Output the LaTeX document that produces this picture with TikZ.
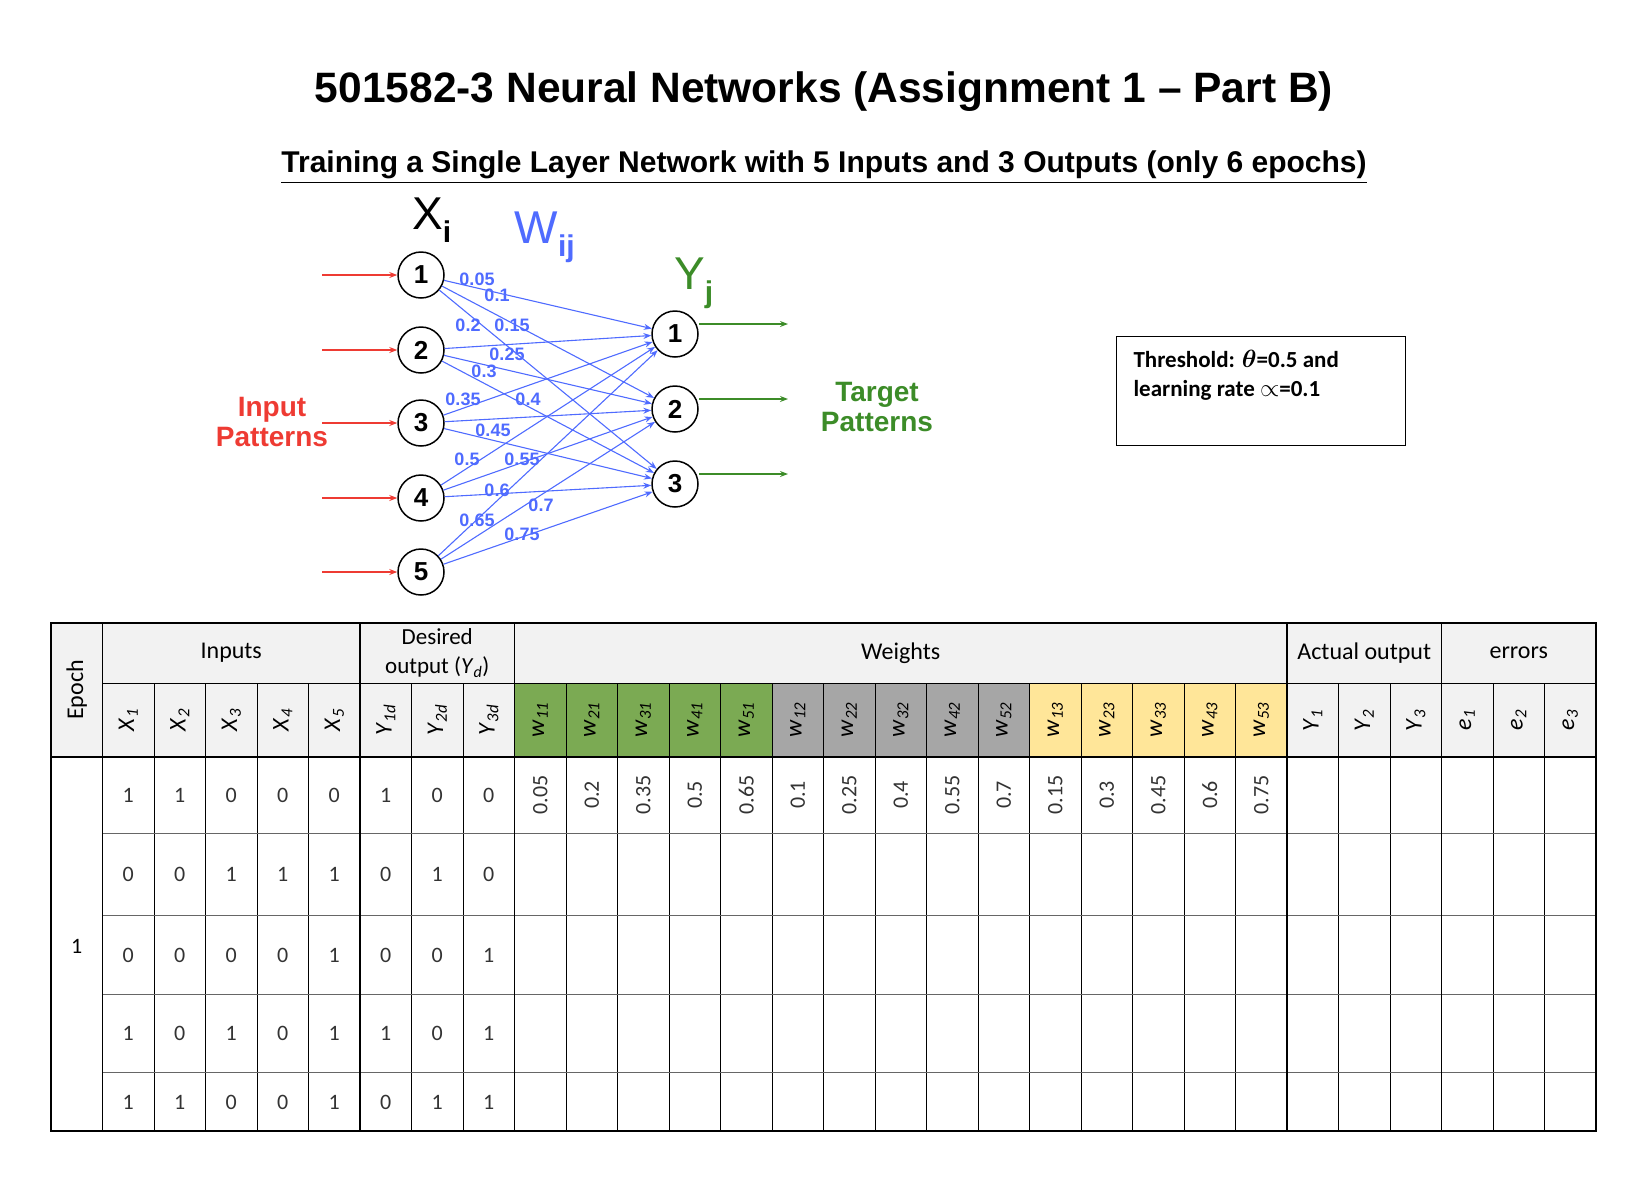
\documentclass[tikz,border=0pt]{standalone}
\usepackage{amsmath}
\usepackage{fontspec}
\setmainfont{Liberation Sans}
\newfontfamily\calfont{Carlito}
\usetikzlibrary{arrows.meta}
\definecolor{wblue}{HTML}{4F6BFF}
\definecolor{ired}{HTML}{EE3B33}
\definecolor{tgreen}{HTML}{3C8C28}
\definecolor{hdr}{HTML}{F2F2F2}
\definecolor{cgreen}{HTML}{7BAA53}
\definecolor{cgray}{HTML}{A6A6A6}
\definecolor{cyel}{HTML}{FFE699}
\newcommand{\fs}[1]{\fontsize{#1}{#1}\selectfont}
\newcommand{\sbi}[2]{\textit{#1}\textsubscript{\textit{#2}}}
\tikzset{
  neuron/.style={circle,draw=black,line width=1.5pt,minimum size=46pt,inner sep=0pt,font=\fs{26}\bfseries},
  wire/.style={wblue,line width=1.1pt,-{Stealth[length=8pt,width=6pt]}},
  wlab/.style={wblue,font=\fs{18}\bfseries,inner sep=0pt},
  inarr/.style={ired,line width=1.2pt,-{Stealth[length=8pt,width=6pt]}},
  outarr/.style={tgreen,line width=1.2pt,-{Stealth[length=8pt,width=6pt]}},
  cell/.style={font=\calfont\fs{22},inner sep=0pt},
  rot/.style={cell,rotate=90},
  hrot/.style={rot,font=\calfont\fs{24}}
}
\begin{document}
\begin{tikzpicture}[x=1pt,y=-1pt]
\useasboundingbox (0,0) rectangle (1645,1189);
% titles
\node[font=\fs{42.5}\bfseries] (title) at (824,92) {501582-3 Neural Networks (Assignment 1 -- Part B)};
\node[font=\fs{30}\bfseries] (sub) at (824,167) {\underline{Training a Single Layer Network with 5 Inputs and 3 Outputs (only 6 epochs)}};
% network
\foreach \i/\y in {1/275,2/350,3/423,4/498,5/572}{
  \node[neuron] (x\i) at (421,\y) {\i};
  \coordinate (s\i) at (322,\y);
  \draw[inarr] (s\i) -- (x\i);
}
\foreach \j/\y in {1/334,2/409,3/484}{
  \node[neuron] (y\j) at (675,\y) {\j};
  \coordinate (t\j) at (788,\y-10);
  \draw[outarr] (y\j.east|-t\j) -- (t\j);
}
\foreach \i in {1,...,5}{\foreach \j in {1,2,3}{\draw[wire] (x\i) -- (y\j);}}
\foreach \t/\x/\y in {0.05/477/279,0.1/497/295,0.2/468/325,0.15/512/325,0.25/507/354,
  0.3/484/371,0.35/463/399,0.4/528/399,0.45/493/430,0.5/467/459,0.55/522/459,
  0.6/497/490,0.7/541/505,0.65/477/520,0.75/522/534}
  \node[wlab] (l\x\y) at (\x,\y) {\t};
\node[font=\fs{46}] (xi) at (432,220) {X\textsubscript{\fs{30}\bfseries i}};
\node[font=\fs{46},wblue] (wij) at (545,237) {W\textsubscript{\fs{30}\bfseries ij}};
\node[font=\fs{46},tgreen] (yj) at (694,283) {Y\textsubscript{\fs{30}\bfseries j}};
\node[font=\fs{28}\bfseries,ired,align=center] (ip) at (272,422) {Input\\[2pt]Patterns};
\node[font=\fs{28}\bfseries,tgreen,align=center] (tp) at (877,407) {Target\\[2pt]Patterns};
% threshold box
\draw[line width=0.8pt] (1116,336) rectangle (1405,445);
\node[font=\calfont\fs{23}\bfseries,anchor=west,align=left] (thr) at (1130,375)
  {Threshold: $\boldsymbol{\theta}$=0.5 and\\[6pt]learning rate $\propto$=0.1};
% table
\def\L{51}\def\W{51.5}
\fill[hdr] (\L,623) rectangle (1596,757);
\foreach \k in {9,...,13}{\fill[cgreen] (\L+\k*\W,683) rectangle (\L+\k*\W+\W,757);}
\foreach \k in {14,...,18}{\fill[cgray] (\L+\k*\W,683) rectangle (\L+\k*\W+\W,757);}
\foreach \k in {19,...,23}{\fill[cyel] (\L+\k*\W,683) rectangle (\L+\k*\W+\W,757);}
% thin lines
\foreach \k in {2,...,29}{\draw[line width=0.6pt] (\L+\k*\W,683) -- (\L+\k*\W,1131);}
\draw[line width=0.6pt] (\L+\W,683) -- (1596,683);
\foreach \y in {833,915,994,1072}{\draw[line width=0.6pt,black!60] (\L+\W,\y) -- (1596,\y);}
% thick lines
\foreach \k in {1,6,9,24,27}{\draw[line width=1.8pt] (\L+\k*\W,623) -- (\L+\k*\W,1131);}
\draw[line width=1.8pt] (\L,757) -- (1596,757);
\draw[line width=2pt] (\L,623) rectangle (1596,1131);
% header texts
\node[hrot] (ep) at (\L+0.5*\W,690) {Epoch};
\node[cell,font=\calfont\fs{24}] (hin) at (\L+3.5*\W,653) {Inputs};
\node[cell,font=\calfont\fs{23},align=center] (hdo) at (\L+7.5*\W,653) {Desired\\[6pt]output (\textit{Y}\textsubscript{\textit{d}})};
\node[cell,font=\calfont\fs{24}] (hw) at (\L+16.5*\W,653) {Weights};
\node[cell,font=\calfont\fs{24}] (hao) at (\L+25.5*\W,653) {Actual output};
\node[cell,font=\calfont\fs{24}] (her) at (\L+28.5*\W,653) {errors};
\foreach \lab [count=\k] in {{\sbi{X}{1}},{\sbi{X}{2}},{\sbi{X}{3}},{\sbi{X}{4}},{\sbi{X}{5}},
  {\sbi{Y}{1d}},{\sbi{Y}{2d}},{\sbi{Y}{3d}},
  {\sbi{w}{11}},{\sbi{w}{21}},{\sbi{w}{31}},{\sbi{w}{41}},{\sbi{w}{51}},
  {\sbi{w}{12}},{\sbi{w}{22}},{\sbi{w}{32}},{\sbi{w}{42}},{\sbi{w}{52}},
  {\sbi{w}{13}},{\sbi{w}{23}},{\sbi{w}{33}},{\sbi{w}{43}},{\sbi{w}{53}},
  {\sbi{Y}{1}},{\sbi{Y}{2}},{\sbi{Y}{3}},{\sbi{e}{1}},{\sbi{e}{2}},{\sbi{e}{3}}}
  \node[hrot] (h\k) at (\L+\k*\W+0.5*\W,720) {\lab};
% data
\node[cell] (ep1) at (\L+0.5*\W,946) {1};
\foreach \y/\vals in {795/{1,1,0,0,0,1,0,0},874/{0,0,1,1,1,0,1,0},955/{0,0,0,0,1,0,0,1},
  1033/{1,0,1,0,1,1,0,1},1102/{1,1,0,0,1,0,1,1}}{
  \foreach \v [count=\k] in \vals {\node[cell,text=black!80] at (\L+\k*\W+0.5*\W,\y) {\v};}
}
\foreach \v [count=\k from 9] in {0.05,0.2,0.35,0.5,0.65,0.1,0.25,0.4,0.55,0.7,0.15,0.3,0.45,0.6,0.75}
  \node[rot,text=black!80] (d\k) at (\L+\k*\W+0.5*\W,795) {\v};
\end{tikzpicture}
\end{document}
